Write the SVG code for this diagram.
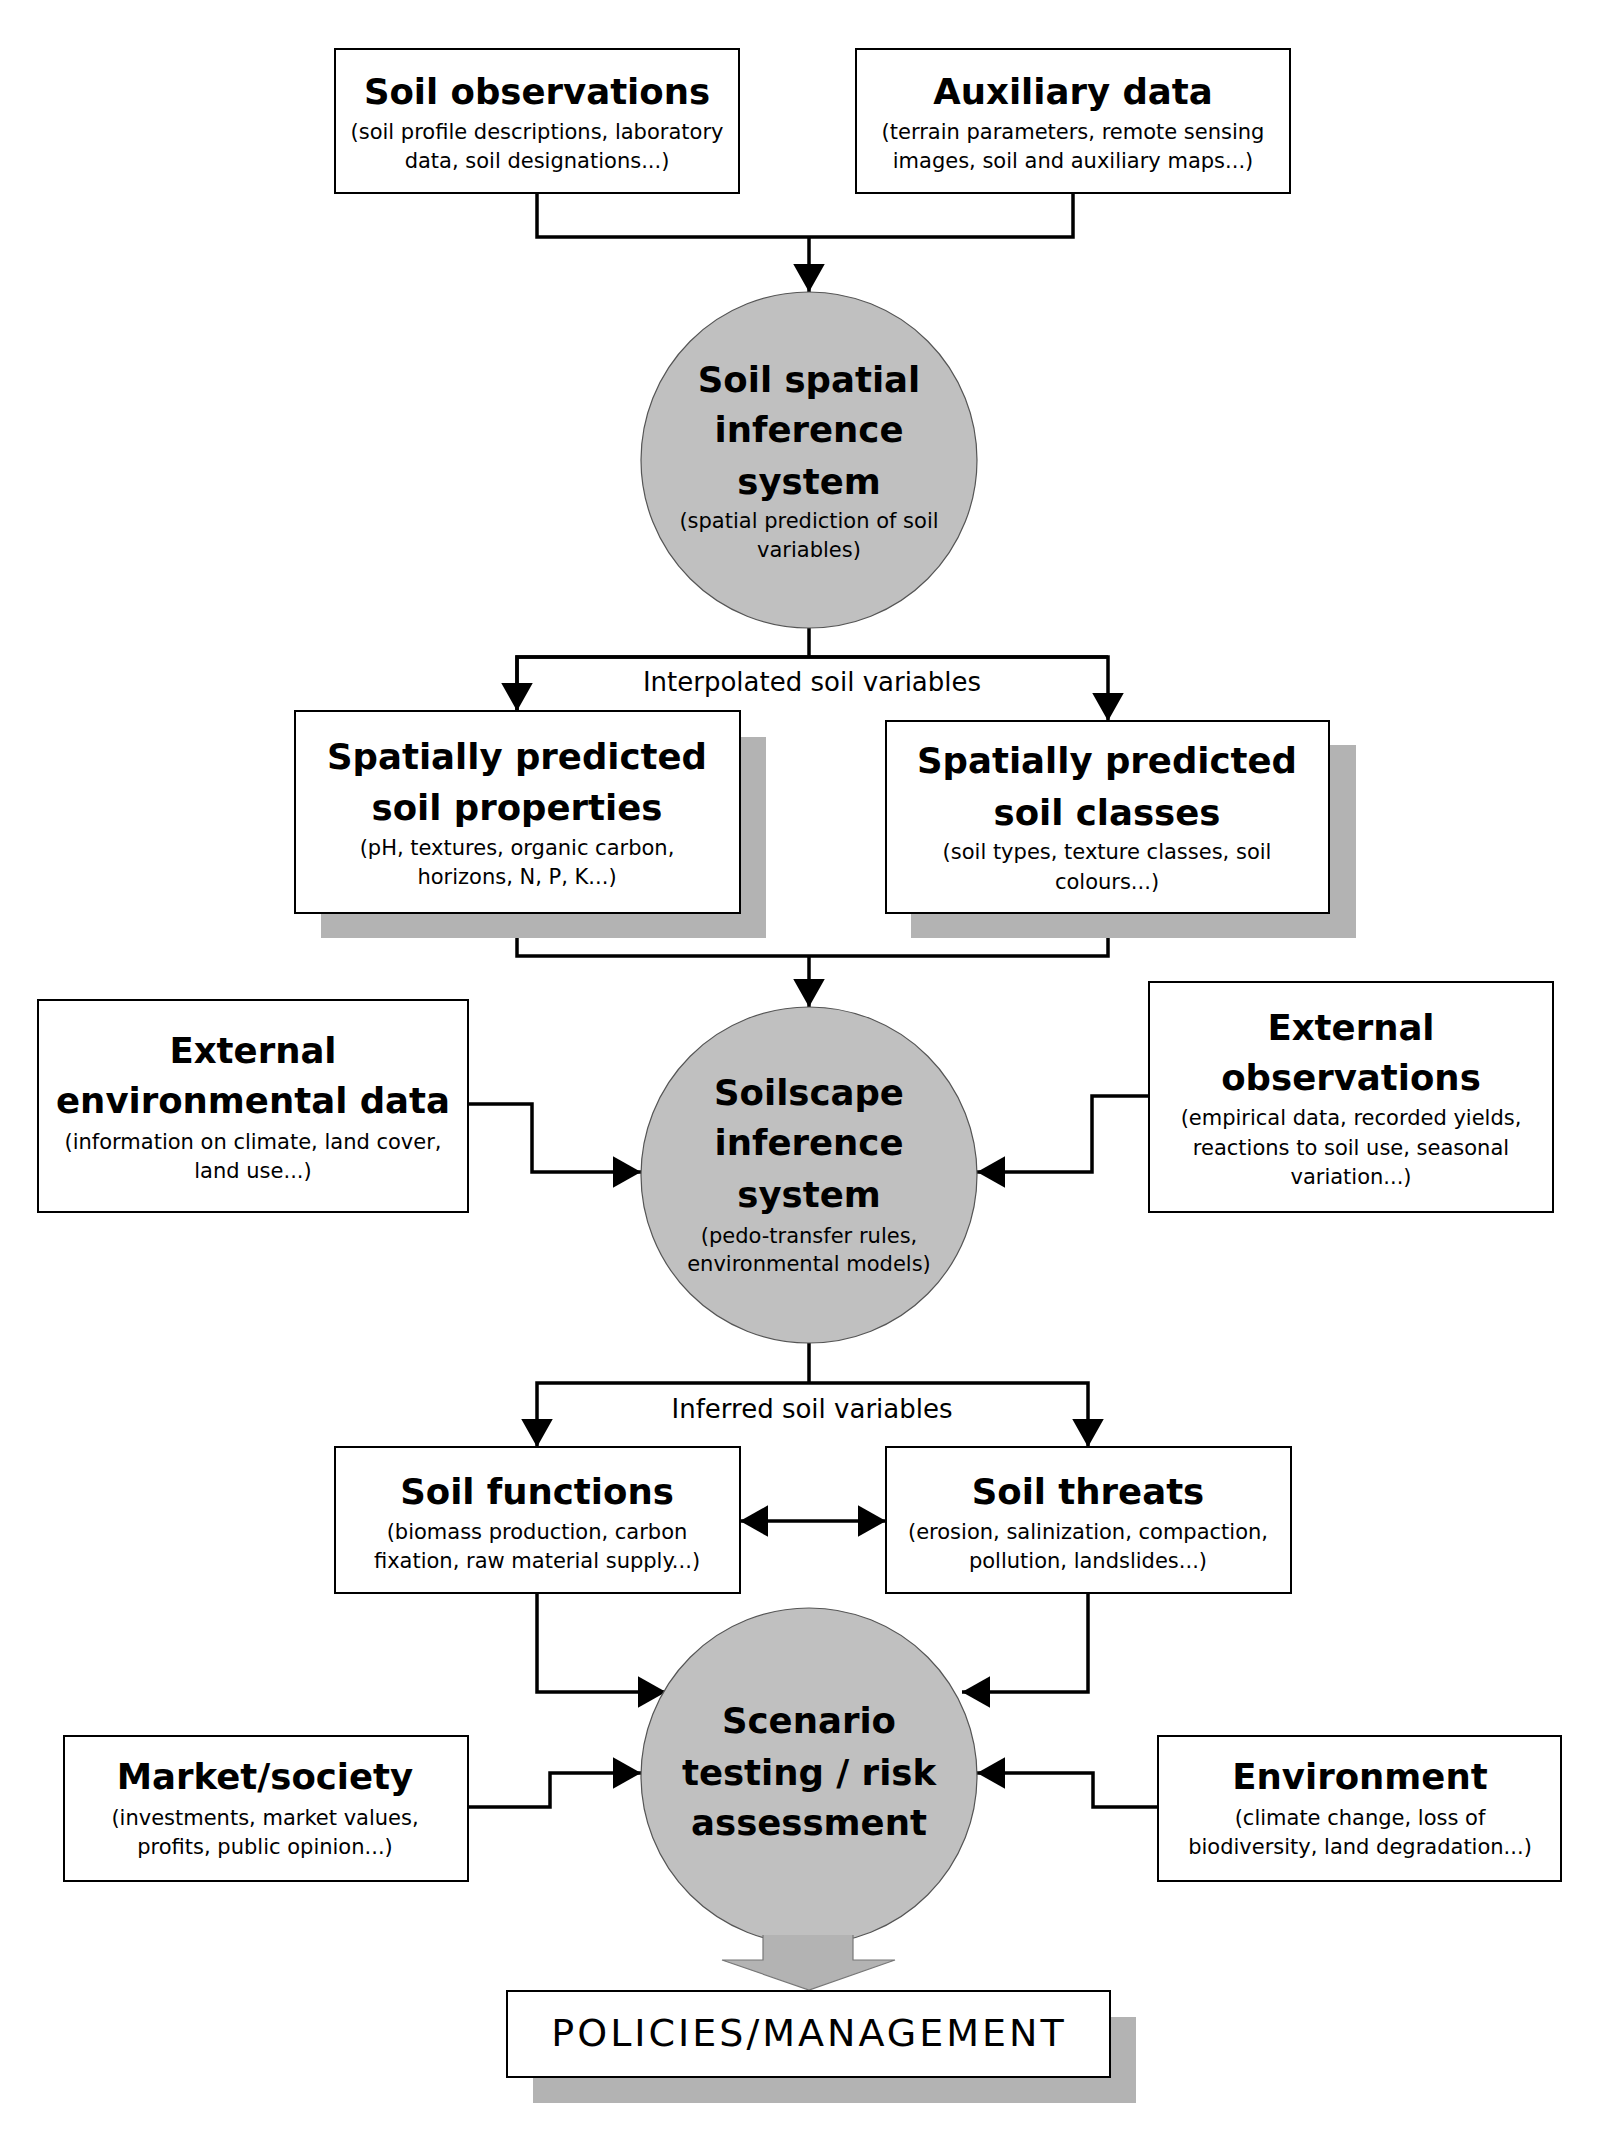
<svg xmlns="http://www.w3.org/2000/svg" width="1619" height="2141" viewBox="0 0 1619 2141">
<style>
.box{fill:#fff;stroke:#000;stroke-width:2}
.sh{fill:#b3b3b3}
.circ{fill:#c0c0c0;stroke:#555;stroke-width:1.2}
.t{font-family:"DejaVu Sans",sans-serif;font-weight:bold;font-size:35.5px;text-anchor:middle;fill:#000}
.s{font-family:"DejaVu Sans",sans-serif;font-size:21px;text-anchor:middle;fill:#000}
.l{font-family:"DejaVu Sans",sans-serif;font-size:26px;text-anchor:middle;fill:#000}
.c{fill:none;stroke:#000;stroke-width:3.5}
</style>
<defs>
<marker id="ah" viewBox="0 0 10 10" refX="10" refY="5" markerWidth="8" markerHeight="9" markerUnits="strokeWidth" orient="auto-start-reverse" preserveAspectRatio="none"><path d="M0,0 L10,5 L0,10 Z" fill="#000"/></marker>
</defs>
<g id="connectors">
<path class="c" d="M537,193 V237 H1073 V193"/>
<path class="c" d="M809,237 V292" marker-end="url(#ah)"/>
<path class="c" d="M809,628 V657"/>
<path class="c" d="M517,711 V657 H1108 V721" marker-end="url(#ah)"/>
<path class="c" d="M1108,657 H517 V711" marker-end="url(#ah)"/>
<path class="c" d="M517,913 V956 H1108 V913"/>
<path class="c" d="M809,956 V1007" marker-end="url(#ah)"/>
<path class="c" d="M468,1104 H532 V1172 H641" marker-end="url(#ah)"/>
<path class="c" d="M1149,1096 H1092 V1172 H977" marker-end="url(#ah)"/>
<path class="c" d="M809,1343 V1383"/>
<path class="c" d="M809,1383 H537 V1447" marker-end="url(#ah)"/>
<path class="c" d="M809,1383 H1088 V1447" marker-end="url(#ah)"/>
<path class="c" d="M740,1521 H886" marker-start="url(#ah)" marker-end="url(#ah)"/>
<path class="c" d="M537,1593 V1692 H666" marker-end="url(#ah)"/>
<path class="c" d="M1088,1593 V1692 H962" marker-end="url(#ah)"/>
<path class="c" d="M468,1807 H550 V1773 H641" marker-end="url(#ah)"/>
<path class="c" d="M1158,1807 H1093 V1773 H977" marker-end="url(#ah)"/>
</g>
<g id="soil-observations">
<rect class="box" x="335" y="49" width="404" height="144"/>
<text class="t" x="537" y="104">Soil observations</text>
<text class="s" x="537" y="139">(soil profile descriptions, laboratory</text>
<text class="s" x="537" y="168">data, soil designations...)</text>
</g>
<g id="auxiliary-data">
<rect class="box" x="856" y="49" width="434" height="144"/>
<text class="t" x="1073" y="104">Auxiliary data</text>
<text class="s" x="1073" y="139">(terrain parameters, remote sensing</text>
<text class="s" x="1073" y="168">images, soil and auxiliary maps...)</text>
</g>
<g id="soil-spatial-inference">
<circle class="circ" cx="809" cy="460" r="168"/>
<text class="t" x="809" y="392">Soil spatial</text>
<text class="t" x="809" y="442">inference</text>
<text class="t" x="809" y="494">system</text>
<text class="s" x="809" y="528">(spatial prediction of soil</text>
<text class="s" x="809" y="557">variables)</text>
</g>
<text class="l" x="812" y="691">Interpolated soil variables</text>
<g id="sp-properties">
<rect class="sh" x="321" y="737" width="445" height="201"/>
<rect class="box" x="295" y="711" width="445" height="202"/>
<text class="t" x="517" y="769">Spatially predicted</text>
<text class="t" x="517" y="820">soil properties</text>
<text class="s" x="517" y="855">(pH, textures, organic carbon,</text>
<text class="s" x="517" y="884">horizons, N, P, K...)</text>
</g>
<g id="sp-classes">
<rect class="sh" x="911" y="745" width="445" height="193"/>
<rect class="box" x="886" y="721" width="443" height="192"/>
<text class="t" x="1107" y="773">Spatially predicted</text>
<text class="t" x="1107" y="825">soil classes</text>
<text class="s" x="1107" y="859">(soil types, texture classes, soil</text>
<text class="s" x="1107" y="889">colours...)</text>
</g>
<g id="ext-env">
<rect class="box" x="38" y="1000" width="430" height="212"/>
<text class="t" x="253" y="1063">External</text>
<text class="t" x="253" y="1113">environmental data</text>
<text class="s" x="253" y="1149">(information on climate, land cover,</text>
<text class="s" x="253" y="1178">land use...)</text>
</g>
<g id="ext-obs">
<rect class="box" x="1149" y="982" width="404" height="230"/>
<text class="t" x="1351" y="1040">External</text>
<text class="t" x="1351" y="1090">observations</text>
<text class="s" x="1351" y="1125">(empirical data, recorded yields,</text>
<text class="s" x="1351" y="1155">reactions to soil use, seasonal</text>
<text class="s" x="1351" y="1184">variation...)</text>
</g>
<g id="soilscape-inference">
<circle class="circ" cx="809" cy="1175" r="168"/>
<text class="t" x="809" y="1105">Soilscape</text>
<text class="t" x="809" y="1155">inference</text>
<text class="t" x="809" y="1207">system</text>
<text class="s" x="809" y="1243">(pedo-transfer rules,</text>
<text class="s" x="809" y="1271">environmental models)</text>
</g>
<text class="l" x="812" y="1418">Inferred soil variables</text>
<g id="soil-functions">
<rect class="box" x="335" y="1447" width="405" height="146"/>
<text class="t" x="537" y="1504">Soil functions</text>
<text class="s" x="537" y="1539">(biomass production, carbon</text>
<text class="s" x="537" y="1568">fixation, raw material supply...)</text>
</g>
<g id="soil-threats">
<rect class="box" x="886" y="1447" width="405" height="146"/>
<text class="t" x="1088" y="1504">Soil threats</text>
<text class="s" x="1088" y="1539">(erosion, salinization, compaction,</text>
<text class="s" x="1088" y="1568">pollution, landslides...)</text>
</g>
<g id="scenario">
<circle class="circ" cx="809" cy="1776" r="168"/>
<text class="t" x="809" y="1733">Scenario</text>
<text class="t" x="809" y="1785">testing / risk</text>
<text class="t" x="809" y="1835">assessment</text>
</g>
<g id="market">
<rect class="box" x="64" y="1736" width="404" height="145"/>
<text class="t" x="265" y="1789">Market/society</text>
<text class="s" x="265" y="1825">(investments, market values,</text>
<text class="s" x="265" y="1854">profits, public opinion...)</text>
</g>
<g id="environment">
<rect class="box" x="1158" y="1736" width="403" height="145"/>
<text class="t" x="1360" y="1789">Environment</text>
<text class="s" x="1360" y="1825">(climate change, loss of</text>
<text class="s" x="1360" y="1854">biodiversity, land degradation...)</text>
</g>
<g id="big-arrow">
<path d="M763,1935 V1960 H722 L809,1990 L895,1960 H853 V1935" fill="#b3b3b3" stroke="#777" stroke-width="1.2"/>
</g>
<g id="policies">
<rect class="sh" x="533" y="2017" width="603" height="86"/>
<rect class="box" x="507" y="1991" width="603" height="86"/>
<text x="809" y="2046" style="font-family:'DejaVu Sans',sans-serif;font-size:38px;letter-spacing:3px;text-anchor:middle">POLICIES/MANAGEMENT</text>
</g>
</svg>
